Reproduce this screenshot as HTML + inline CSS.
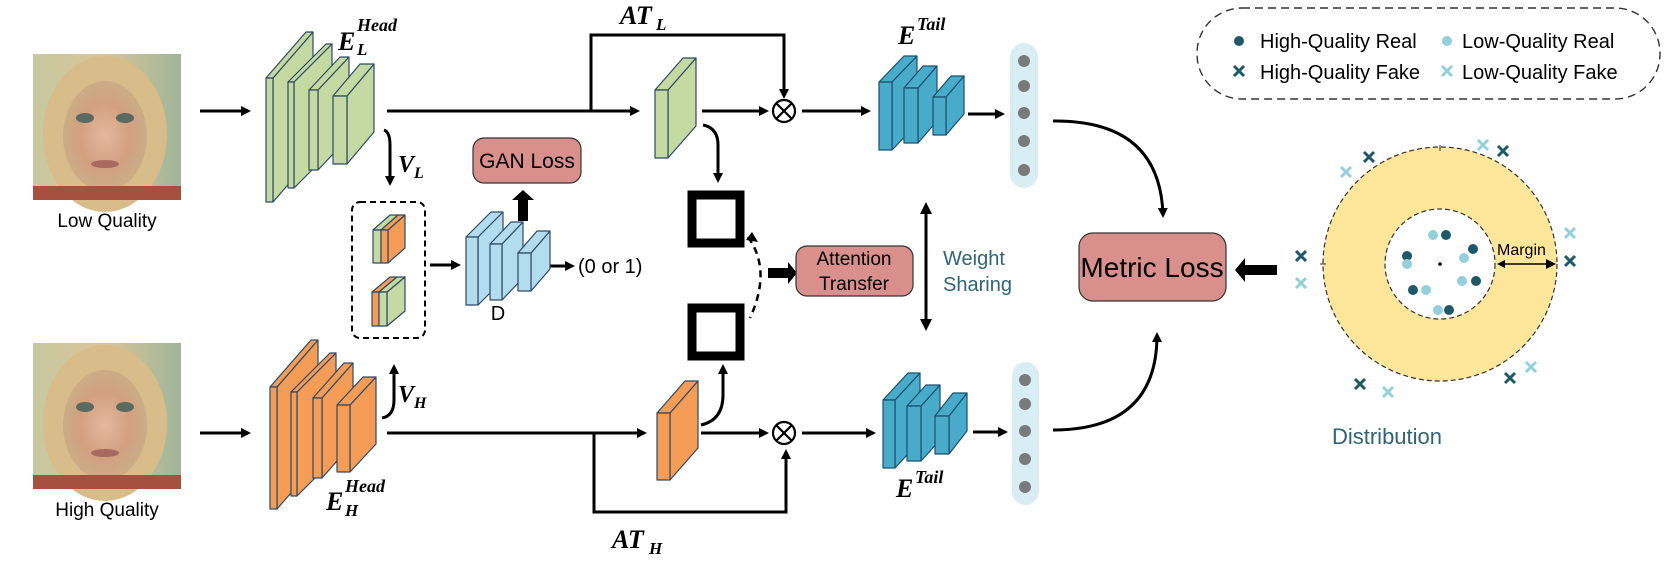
<!DOCTYPE html>
<html><head><meta charset="utf-8"><style>
html,body{margin:0;padding:0;background:#fff;width:1679px;height:564px;overflow:hidden}
svg{display:block}
text{font-family:"Liberation Sans",sans-serif}
.m{font-family:"Liberation Serif",serif;font-weight:bold;font-style:italic}
</style></head><body>
<svg id="s" width="1679" height="564" viewBox="0 0 1679 564" xmlns="http://www.w3.org/2000/svg">
<defs>
<marker id="ah" markerWidth="10" markerHeight="10" refX="7" refY="5" orient="auto" markerUnits="userSpaceOnUse"><path d="M0,0 L10,5 L0,10 Z" fill="#000"/></marker>
<marker id="ahb" markerWidth="12" markerHeight="12" refX="9" refY="6" orient="auto" markerUnits="userSpaceOnUse"><path d="M0,0 L12,6 L0,12 Z" fill="#000"/></marker>
<marker id="ahs" markerWidth="12" markerHeight="12" refX="3" refY="6" orient="auto" markerUnits="userSpaceOnUse"><path d="M12,0 L0,6 L12,12 Z" fill="#000"/></marker>
<marker id="ahm" markerWidth="8" markerHeight="8" refX="2" refY="4" orient="auto" markerUnits="userSpaceOnUse"><path d="M8,0 L0,4 L8,8 Z" fill="#000"/></marker>
<radialGradient id="fg" cx="50%" cy="50%" r="55%"><stop offset="0" stop-color="#e6b8a0"/><stop offset="0.55" stop-color="#d2a080"/><stop offset="1" stop-color="#c9b18a"/></radialGradient>
<linearGradient id="bg" x1="0" y1="0" x2="1" y2="0"><stop offset="0" stop-color="#c8c8a0"/><stop offset="0.5" stop-color="#d9c49a"/><stop offset="1" stop-color="#9fb59a"/></linearGradient>
</defs>
<g id="faces"></g>
<text x="107" y="227" font-size="19" text-anchor="middle">Low Quality</text>
<text x="107" y="516" font-size="19" text-anchor="middle">High Quality</text>
<g stroke="#000" stroke-width="3" fill="none">
<line x1="200" y1="111" x2="248" y2="111" marker-end="url(#ah)"/>
<line x1="200" y1="433" x2="248" y2="433" marker-end="url(#ah)"/>
<line x1="387" y1="111" x2="637" y2="111" marker-end="url(#ah)"/>
<polyline points="591,111 591,35 784,35 784,96" marker-end="url(#ah)"/>
<line x1="702" y1="111" x2="766" y2="111" marker-end="url(#ah)"/>
<line x1="802" y1="111" x2="868" y2="111" marker-end="url(#ah)"/>
<line x1="968" y1="114" x2="1002" y2="114" marker-end="url(#ah)"/>
<line x1="387" y1="433" x2="644" y2="433" marker-end="url(#ah)"/>
<polyline points="594,433 594,512 786,512 786,452" marker-end="url(#ah)"/>
<line x1="701" y1="433" x2="766" y2="433" marker-end="url(#ah)"/>
<line x1="802" y1="433" x2="873" y2="433" marker-end="url(#ah)"/>
<line x1="973" y1="432" x2="1005" y2="432" marker-end="url(#ah)"/>
<path d="M703,125 Q718,128 718,145 L718,180" marker-end="url(#ah)"/>
<path d="M701,425 Q723,420 723,395 L723,367" marker-end="url(#ah)"/>
<path d="M384,130 Q390,132 390,145 L390,183" marker-end="url(#ah)"/>
<path d="M382,418 Q394,416 394,400 L394,367" marker-end="url(#ah)"/>
<line x1="430" y1="265" x2="458" y2="265" marker-end="url(#ah)"/>
<line x1="550" y1="266" x2="572" y2="266" marker-end="url(#ah)"/>
<line x1="926" y1="205" x2="926" y2="328" marker-end="url(#ahb)" marker-start="url(#ahs)"/>
<path d="M1053,121 Q1160,120 1163,215" marker-end="url(#ah)"/>
<path d="M1053,430 Q1157,430 1157,335" marker-end="url(#ah)"/>
<path d="M748,237 Q772,270 750,318" stroke-dasharray="7,5" stroke-width="2.5"/>
</g>
<path d="M752,232 L758,242 L746,240 Z" fill="#000"/>
<rect x="768" y="268" width="20" height="10" fill="#000"/><path d="M788,262 L797,273 L788,284 Z" fill="#000"/>
<rect x="518" y="200" width="10" height="21" fill="#000"/><path d="M512,200 L523,190 L534,200 Z" fill="#000"/>
<rect x="1244" y="265" width="33" height="10" fill="#000"/><path d="M1245,258 L1235,270 L1245,282 Z" fill="#000"/>
<g fill="none" stroke="#000" stroke-width="2.2">
<circle cx="784" cy="111" r="11"/><path d="M776,103 L792,119 M792,103 L776,119"/>
<circle cx="784" cy="433" r="11"/><path d="M776,425 L792,441 M792,425 L776,441"/>
</g>
<rect x="692" y="195" width="48" height="48" fill="none" stroke="#000" stroke-width="9"/>
<rect x="692" y="308" width="48" height="48" fill="none" stroke="#000" stroke-width="9"/>
<rect x="352" y="202" width="73" height="136" rx="8" fill="none" stroke="#000" stroke-width="2" stroke-dasharray="6,4"/>
<g id="slabs"></g>
<rect x="473" y="138" width="108" height="45" rx="11" fill="#d9908c" stroke="#333" stroke-width="1.2"/>
<text x="527" y="168" font-size="21" text-anchor="middle">GAN Loss</text>
<rect x="796" y="246" width="117" height="50" rx="11" fill="#d9908c" stroke="#333" stroke-width="1.2"/>
<text x="854" y="265" font-size="19" text-anchor="middle">Attention</text>
<text x="854" y="290" font-size="19" text-anchor="middle">Transfer</text>
<rect x="1079" y="233" width="147" height="68" rx="14" fill="#d9908c" stroke="#333" stroke-width="1.2"/>
<text x="1152" y="277" font-size="28" text-anchor="middle">Metric Loss</text>
<text x="943" y="265" font-size="20" fill="#2f6478">Weight</text>
<text x="943" y="291" font-size="20" fill="#2f6478">Sharing</text>
<text x="578" y="273" font-size="20">(0 or 1)</text>
<text x="498" y="320" font-size="20" text-anchor="middle">D</text>
<rect x="1010" y="43" width="28" height="145" rx="14" fill="#d9edf5"/>
<rect x="1012" y="362" width="27" height="143" rx="13.5" fill="#d9edf5"/>
<g fill="#7a7a7a">
<circle cx="1024" cy="61" r="6"/><circle cx="1024" cy="86" r="6"/><circle cx="1024" cy="113" r="6"/><circle cx="1024" cy="141" r="6"/><circle cx="1024" cy="170" r="6"/>
<circle cx="1025" cy="380" r="6"/><circle cx="1025" cy="404" r="6"/><circle cx="1025" cy="431" r="6"/><circle cx="1025" cy="459" r="6"/><circle cx="1025" cy="487" r="6"/>
</g>
<text class="m" x="338" y="50" font-size="26">E</text><text class="m" x="357" y="55" font-size="17">L</text><text class="m" x="357" y="31" font-size="18">Head</text>
<text class="m" x="326" y="510" font-size="26">E</text><text class="m" x="345" y="516" font-size="17">H</text><text class="m" x="345" y="492" font-size="18">Head</text>
<text class="m" x="620" y="24" font-size="26">AT</text><text class="m" x="656" y="30" font-size="17">L</text>
<text class="m" x="612" y="548" font-size="26">AT</text><text class="m" x="649" y="554" font-size="17">H</text>
<text class="m" x="898" y="44" font-size="26">E</text><text class="m" x="917" y="30" font-size="18">Tail</text>
<text class="m" x="896" y="497" font-size="26">E</text><text class="m" x="915" y="483" font-size="18">Tail</text>
<text class="m" x="398" y="172" font-size="24">V</text><text class="m" x="414" y="178" font-size="16">L</text>
<text class="m" x="398" y="402" font-size="24">V</text><text class="m" x="414" y="408" font-size="16">H</text>
<rect x="1197" y="8" width="463" height="91" rx="45" fill="none" stroke="#333" stroke-width="1.4" stroke-dasharray="8,5"/>
<circle cx="1239" cy="41" r="5" fill="#1f5869"/><text x="1260" y="48" font-size="20">High-Quality Real</text>
<circle cx="1447" cy="41" r="5" fill="#94cfdc"/><text x="1462" y="48" font-size="20">Low-Quality Real</text>
<g stroke-width="3" fill="none"><path d="M1234,66 l10,10 m0,-10 l-10,10" stroke="#1f5869"/><path d="M1442,66 l10,10 m0,-10 l-10,10" stroke="#94cfdc"/></g>
<text x="1260" y="79" font-size="20">High-Quality Fake</text><text x="1462" y="79" font-size="20">Low-Quality Fake</text>
<circle cx="1440" cy="264" r="117" fill="#fde59a" stroke="#333" stroke-width="1.2" stroke-dasharray="5,3"/>
<circle cx="1440" cy="264" r="55" fill="#fff" stroke="#333" stroke-width="1.2" stroke-dasharray="5,3"/>
<path d="M1440,145 v6 M1320,264 h6" stroke="#333"/>
<circle cx="1440" cy="264" r="1.8" fill="#000"/>
<line x1="1499" y1="264" x2="1553" y2="264" stroke="#000" stroke-width="1.5" marker-end="url(#ah)" marker-start="url(#ahm)"/>
<text x="1497" y="255" font-size="16">Margin</text>
<g id="pts"></g>
<text x="1387" y="444" font-size="22" fill="#2f6478" text-anchor="middle">Distribution</text>
</svg>
<script>
var NS="http://www.w3.org/2000/svg";
function el(p,t,a){var e=document.createElementNS(NS,t);for(var k in a)e.setAttribute(k,a[k]);p.appendChild(e);return e;}
var S=document.getElementById("slabs");
function slab(x,y,w,h,tx,ty,f,st){var dx=tx-(x+w),dy=y-ty;var a={fill:f,stroke:st||"#2d4a66","stroke-width":1.2,"stroke-linejoin":"round"};
el(S,"polygon",Object.assign({points:[x+w,y,tx,ty,tx,ty+h,x+w,y+h].join(",")},a));
el(S,"polygon",Object.assign({points:[x,y,x+dx,ty,tx,ty,x+w,y].join(",")},a));
el(S,"rect",Object.assign({x:x,y:y,width:w,height:h},a));}
var G="#c5d9a2",O="#f59d56",B="#b3dcef",T="#48abc9";
slab(266,78,7,124,313,32,G);slab(288,82,6,106,332,44,G);slab(309,90,9,80,349,57,G);slab(333,96,14,68,374,64,G);
slab(270,387,7,122,318,340,O);slab(291,392,6,104,336,353,O);slab(313,398,9,80,353,363,O);slab(337,405,13,67,376,377,O);
slab(655,90,13,68,696,58,G);slab(657,413,13,67,698,381,O);
slab(879,82,13,68,917,56,T,"#1a4f6e");slab(904,88,14,55,937,66,T,"#1a4f6e");slab(933,97,13,38,964,76,T,"#1a4f6e");
slab(883,400,12,68,920,373,T,"#1a4f6e");slab(907,406,14,55,940,385,T,"#1a4f6e");slab(935,416,14,38,967,393,T,"#1a4f6e");
slab(466,237,12,68,503,212,B);slab(490,244,12,56,523,222,B);slab(518,253,13,38,550,231,B);
slab(373,230,8,33,398,215,G);slab(381,230,7,33,405,215,O);
slab(372,292,7,34,397,277,O);slab(379,292,8,34,405,277,G);
var F=document.getElementById("faces");
[[33,54],[33,343]].forEach(function(p){var x=p[0],y=p[1];
el(F,"rect",{x:x,y:y,width:148,height:146,fill:"url(#bg)"});
el(F,"ellipse",{cx:x+72,cy:y+80,rx:62,ry:78,fill:"#d8bd8a"});
el(F,"ellipse",{cx:x+72,cy:y+82,rx:42,ry:55,fill:"url(#fg)"});
el(F,"rect",{x:x,y:y+132,width:148,height:14,fill:"#a65040"});
el(F,"ellipse",{cx:x+52,cy:y+64,rx:9,ry:5,fill:"#5b6a60"});
el(F,"ellipse",{cx:x+92,cy:y+64,rx:9,ry:5,fill:"#5b6a60"});
el(F,"ellipse",{cx:x+72,cy:y+110,rx:14,ry:4,fill:"#a86a60"});});
var P=document.getElementById("pts"),D="#1f5869",L="#94cfdc";
[[1433,235,L],[1446,235,D],[1407,256,D],[1407,264,L],[1473,249,D],[1464,258,L],[1462,281,L],[1476,281,D],[1413,290,D],[1426,290,L],[1438,310,L],[1449,310,D]].forEach(function(c){el(P,"circle",{cx:c[0],cy:c[1],r:5,fill:c[2]});});
[[1369,157,D],[1346,172,L],[1483,145,L],[1503,151,D],[1301,256,D],[1301,283,L],[1360,384,D],[1388,392,L],[1510,378,D],[1531,367,L],[1570,233,L],[1570,261,D]].forEach(function(c){el(P,"path",{d:"M"+(c[0]-5)+","+(c[1]-5)+" l10,10 m0,-10 l-10,10",stroke:c[2],"stroke-width":3,"fill":"none"});});
</script>
</body></html>
